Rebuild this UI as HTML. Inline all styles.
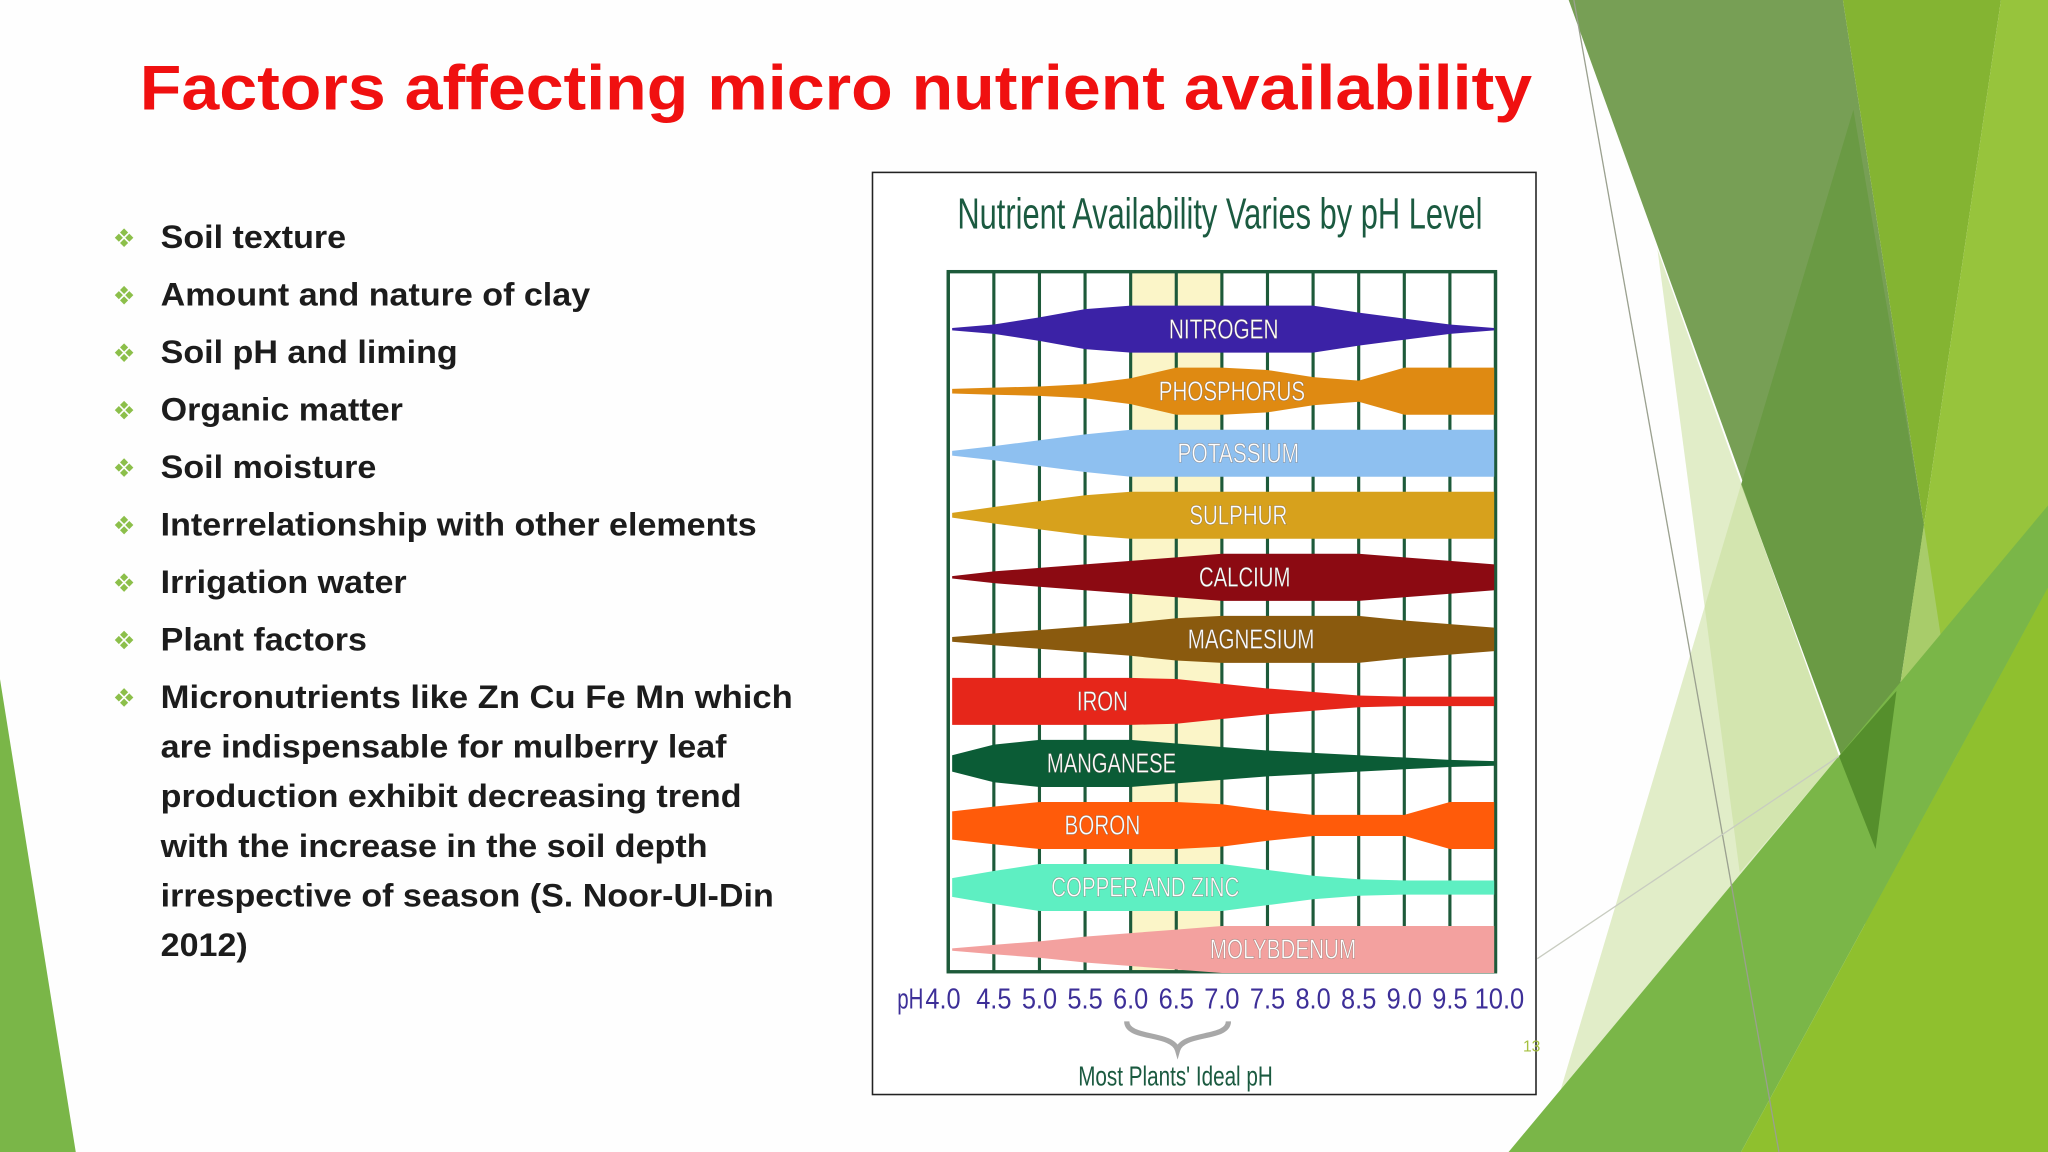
<!DOCTYPE html>
<html><head><meta charset="utf-8"><style>
html,body{margin:0;padding:0;background:#fff;}
svg{display:block;}
</style></head><body>
<svg id="slide" width="2048" height="1152" viewBox="0 0 1568 882" xmlns="http://www.w3.org/2000/svg" font-family="Liberation Sans, sans-serif">
<rect x="0" y="0" width="1568" height="882" fill="#fefefe"/>
<g>
  <polygon points="0,520 58,882 0,882" fill="#7ab648"/>
  <polygon points="1201,0 1411,0 1473,402 1436,650" fill="#779f55"/>
  <polygon points="1419,84 1473,402 1436,650 1333,371" fill="#6a9a44"/>
  <polygon points="1411,0 1532,0 1473,402" fill="#84b432"/>
  <polygon points="1532,0 1568,0 1568,882 1399,882 1427,714 1473,402" fill="#97c43c"/>
  <polygon points="1473,402 1500,580 1440,625" fill="#a8cc6a"/>
  <polygon points="1269,191 1408,579 1332,668" fill="#c8de9a" opacity="0.55"/>
  <polygon points="1333,371 1408,579 1195,834" fill="#c8de9a" opacity="0.55"/>
  <polygon points="1155,882 1568,387 1568,450 1333,882" fill="#7ab648"/>
  <polygon points="1333,882 1568,450 1568,882" fill="#8fc02e"/>
  <polygon points="1408,579 1452,529 1436,650" fill="#558f2c"/>
  <line x1="1205" y1="0" x2="1362" y2="882" stroke="#9aa08f" stroke-width="1"/>
  <line x1="1177" y1="734" x2="1408" y2="579" stroke="#c8ccc0" stroke-width="1"/>
</g>
<text x="640" y="84" text-anchor="middle" font-size="48" font-weight="bold" fill="#f01010" textLength="1066" lengthAdjust="spacingAndGlyphs">Factors affecting micro nutrient availability</text>
<g id="bulletIcons"></g>
<g font-size="25" font-weight="bold" fill="#1c1c1c" id="bullets" transform="translate(123,0) scale(1.043,1) translate(-123,0)"></g>
<rect x="668" y="132" width="508" height="706" fill="#fff" stroke="#222" stroke-width="1.2"/>
<text x="934" y="175" text-anchor="middle" font-size="33" fill="#1b5a40" textLength="402" lengthAdjust="spacingAndGlyphs">Nutrient Availability Varies by pH Level</text>
<g id="chart"></g>
<text x="1166" y="805" font-size="12" fill="#a6c040">13</text>
<script>
const phTicks = ["4.0","4.5","5.0","5.5","6.0","6.5","7.0","7.5","8.0","8.5","9.0","9.5","10.0"];
const nutrients = ["NITROGEN","PHOSPHORUS","POTASSIUM","SULPHUR","CALCIUM","MAGNESIUM","IRON","MANGANESE","BORON","COPPER AND ZINC","MOLYBDENUM"];
const nitrogen   = [0.05,0.2,0.5,0.85,1,1,1,1,1,0.7,0.45,0.2,0.05];
const phosphorus = [0.1,0.15,0.2,0.3,0.55,1,1,0.9,0.6,0.45,1,1,1];
const potassium  = [0.1,0.3,0.55,0.8,1,1,1,1,1,1,1,1,1];
const sulphur    = [0.1,0.35,0.6,0.85,1,1,1,1,1,1,1,1,1];
const calcium    = [0.05,0.25,0.4,0.55,0.7,0.85,1,1,1,1,0.85,0.7,0.55];
const magnesium  = [0.1,0.25,0.4,0.55,0.7,0.9,1,1,1,1,0.8,0.65,0.5];
const iron       = [1,1,1,1,1,0.95,0.75,0.55,0.4,0.25,0.2,0.2,0.2];
const manganese  = [0.35,0.8,1,1,1,0.85,0.7,0.55,0.45,0.35,0.25,0.15,0.1];
const boron      = [0.6,0.8,1,1,1,1,0.9,0.65,0.45,0.45,0.45,1,1];
const copperZinc = [0.4,0.7,1,1,1,1,1,0.75,0.5,0.35,0.3,0.3,0.3];
const molybdenum = [0.05,0.2,0.35,0.55,0.7,0.85,1,1,1,1,1,1,1];
const series = [nitrogen,phosphorus,potassium,sulphur,calcium,magnesium,iron,manganese,boron,copperZinc,molybdenum];
const colors = ["#3b22a6","#df8a12","#8ec0f0","#d7a11c","#8c0a12","#8a5a0e","#e6261a","#0b5c36","#ff5b0a","#5eefc2","#f3a19f"];
const labelPh = [7.02,7.11,7.18,7.18,7.25,7.32,5.69,5.79,5.69,6.16,7.67];
const labelW = [84,112,93,75,70,97,39,99,58,144,112];
const bullets = ["Soil texture","Amount and nature of clay","Soil pH and liming","Organic matter","Soil moisture","Interrelationship with other elements","Irrigation water","Plant factors"];
const longBullet = ["Micronutrients like Zn Cu Fe  Mn  which","are indispensable for mulberry leaf","production exhibit decreasing trend","with the increase in the soil depth","irrespective of season (S. Noor-Ul-Din","2012)"];

const NS="http://www.w3.org/2000/svg";
function mk(tag,attrs,parent){const e=document.createElementNS(NS,tag);for(const k in attrs)e.setAttribute(k,attrs[k]);parent.appendChild(e);return e;}
const X0=726,X1=1145,Y0=208,Y1=744;
function xScale(ph){return X0+(ph-4)/6*(X1-X0);}
function rowY(i){return 252+i*47.5;}
const HW=18;

const bl=document.getElementById('bullets');
const bi=document.getElementById('bulletIcons');
function bulletMark(y){
  const g=mk('g',{},bi);
  
  
  [[0,-4],[0,4],[-4,0],[4,0]].forEach(d=>mk('rect',{x:95+d[0]-2.2,y:y-8+d[1]-2.2,width:4.4,height:4.4,transform:`rotate(45 ${95+d[0]} ${y-8+d[1]})`,fill:'#8cbf4a'},g));
}
bullets.forEach((b,i)=>{
  const y=190+i*44;
  bulletMark(y);
  const t=mk('text',{x:123,y:y},bl);
  
  
  t.textContent=b;
});
bulletMark(542);
longBullet.forEach((l,i)=>{
  const t=mk('text',{x:123,y:542+i*38},bl);
  
  
  if(i===0){t.setAttribute('textLength','464');t.setAttribute('lengthAdjust','spacingAndGlyphs');}
  t.textContent=l;
});

const ch=document.getElementById('chart');
const band=mk('rect',{x:xScale(6),y:Y0,width:xScale(7)-xScale(6),height:Y1-Y0,fill:'#fbf5c8'},ch);


phTicks.forEach((t,i)=>{
  const x=xScale(4+i*0.5);
  const l=mk('line',{x1:x,y1:Y0,x2:x,y2:Y1,stroke:'#1d5a3a','stroke-width':2.4},ch);
  
  
});
const fr=mk('rect',{x:X0,y:Y0,width:X1-X0,height:Y1-Y0,fill:'none',stroke:'#1d5a3a','stroke-width':2.6},ch);



series.forEach((vals,i)=>{
  const cy=rowY(i);
  const top=[],bot=[];
  vals.forEach((v,j)=>{
    let x=xScale(4+j*0.5);
    if(j===0)x+=3; if(j===vals.length-1)x-=1;
    top.push(x.toFixed(1)+','+(cy-HW*v).toFixed(1));
    bot.unshift(x.toFixed(1)+','+(cy+HW*v).toFixed(1));
  });
  const p=mk('polygon',{points:top.concat(bot).join(' '),fill:colors[i]},ch);
  
  
  const t=mk('text',{x:xScale(labelPh[i]),y:cy+7,'text-anchor':'middle','font-size':21,fill:'#fff',stroke:'rgba(60,40,30,0.35)','stroke-width':0.6,textLength:labelW[i],lengthAdjust:'spacingAndGlyphs'},ch);
  
  
  t.textContent=nutrients[i];
});

phTicks.forEach((t,i)=>{
  let x=xScale(4+i*0.5);
  if(i===0)x-=4; if(i===phTicks.length-1)x+=3;
  const e=mk('text',{x:x,y:772,'text-anchor':'middle','font-size':22,fill:'#3d2f98',textLength:(t.length>3?38:27),lengthAdjust:'spacingAndGlyphs'},ch);
  
  
  e.textContent=t;
});
const ph=mk('text',{x:697,y:772,'text-anchor':'middle','font-size':22,fill:'#3d2f98',textLength:20,lengthAdjust:'spacingAndGlyphs'},ch);


ph.textContent='pH';
const a=xScale(6)-3,b=xScale(7)+5,m=(a+b)/2;
const br=mk('path',{d:`M${a},782 C${a},796 ${m-4},790 ${m},804 C${m+4},790 ${b},796 ${b},782`,fill:'none',stroke:'#a8a8a8','stroke-width':4},ch);


const cap=mk('text',{x:900,y:831,'text-anchor':'middle','font-size':21,fill:'#1b5a40',textLength:149,lengthAdjust:'spacingAndGlyphs'},ch);


cap.textContent="Most Plants' Ideal pH";
</script>
</svg>
</body></html>
